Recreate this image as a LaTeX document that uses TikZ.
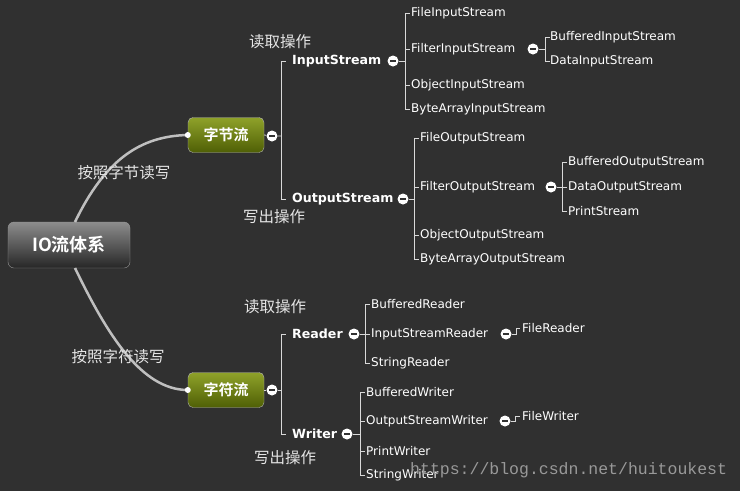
\documentclass[tikz,border=0pt]{standalone}
\usepackage{fontspec}
\setmainfont{DejaVu Sans}
\newfontfamily\cjk{Noto Sans CJK SC}
\newfontfamily\cjkb{Noto Sans CJK SC Bold}
\newfontfamily\wm{Liberation Mono}
\definecolor{gtop}{HTML}{8FA22A}
\definecolor{gbot}{HTML}{4F5F05}
\begin{document}
\begin{tikzpicture}[x=1pt,y=-1pt,
  leaf/.style={anchor=west,inner sep=0pt,text=white,font=\fontsize{12}{13}\selectfont},
  mid/.style={anchor=west,inner sep=0pt,text=white,font=\bfseries\fontsize{12.6}{13}\selectfont},
  lab/.style={inner sep=0pt,text=white!90!black,font=\cjk\fontsize{15.5}{17}\selectfont},
  ln/.style={draw=white!85!black,line width=0.8pt},
  mn/.style={circle,fill=white,inner sep=0pt,minimum size=11pt,path picture={\draw[black!80,line width=1.5pt] ([xshift=-3pt]path picture bounding box.center) -- ([xshift=3pt]path picture bounding box.center);}},
  grn/.style={rounded corners=5pt,draw=white!70!black,top color=gtop,bottom color=gbot,minimum width=76pt,minimum height=35pt,text=white,font=\cjkb\fontsize{15}{16}\selectfont},
]
\fill[black!81] (0,0) rectangle (740,491);
\useasboundingbox (0,0) rectangle (740,491);
% root
\node[rounded corners=6pt,draw=white!60!black,top color=black!45,bottom color=black!85,minimum width=122pt,minimum height=46pt,text=white,font=\cjkb\fontsize{18}{19}\selectfont] (root) at (69,245) {IO流体系};
\node[grn] (byte) at (226,135) {字节流};
\node[grn] (char) at (226,390) {字符流};
\draw[white!75!black,line width=2.5pt] (75,222) .. controls (105,160) and (140,136) .. (byte.west);
\draw[white!75!black,line width=2.5pt] (75,268) .. controls (105,330) and (140,390) .. (char.west);
\fill[white] (byte.west) circle (3pt) (char.west) circle (3pt);
\node[lab] (l1) at (124,173) {按照字节读写};
\node[lab] (l2) at (118,357) {按照字符读写};
\node[lab] (l3) at (280,42) {读取操作};
\node[lab] (l4) at (274,217) {写出操作};
\node[lab] (l5) at (275,307) {读取操作};
\node[lab] (l6) at (285,458) {写出操作};
% bracket macro
\newcommand\brk[4]{% x, ytop, ybot, list of y
  \draw[ln] (#1,#2) -- (#1,#3);
  \foreach \yy in {#4} \draw[ln] (#1,\yy) -- (#1+5,\yy);}
% byte
\node[mn] (m1) at (272,136) {};
\draw[ln] (byte.east) -- (m1) -- (281,136);
\brk{281}{61}{199}{61,199}
\node[mid] (is) at (292,61) {InputStream};
\node[mid] (os) at (292,199) {OutputStream};
\node[mn] (m2) at (393,61) {};
\draw[ln] (m2) -- (405,61);
\brk{405}{13}{109}{13,49,85,109}
\node[leaf] (fis) at (411,13) {FileInputStream};
\node[leaf] (filis) at (411,49) {FilterInputStream};
\node[leaf] (ois) at (411,85) {ObjectInputStream};
\node[leaf] (bais) at (411,109) {ByteArrayInputStream};
\node[mn] (m3) at (533,49) {};
\draw[ln] (m3) -- (545,49);
\brk{545}{37}{61}{37,61}
\node[leaf] (bis) at (550,37) {BufferedInputStream};
\node[leaf] (dis) at (550,61) {DataInputStream};
\node[mn] (m4) at (403,199) {};
\draw[ln] (m4) -- (414,199);
\brk{414}{138}{259}{138,187,235,259}
\node[leaf] (fos) at (420,138) {FileOutputStream};
\node[leaf] (filos) at (420,187) {FilterOutputStream};
\node[leaf] (oos) at (420,235) {ObjectOutputStream};
\node[leaf] (baos) at (420,259) {ByteArrayOutputStream};
\node[mn] (m5) at (551,187) {};
\draw[ln] (m5) -- (562,187);
\brk{562}{162}{211}{162,187,211}
\node[leaf] (bos) at (568,162) {BufferedOutputStream};
\node[leaf] (dos) at (568,187) {DataOutputStream};
\node[leaf] (ps) at (568,211) {PrintStream};
% char
\node[mn] (m6) at (272,390) {};
\draw[ln] (char.east) -- (m6) -- (281,390);
\brk{281}{334}{434}{334,434}
\node[mid] (rd) at (292,334) {Reader};
\node[mid] (wr) at (292,434) {Writer};
\node[mn] (m7) at (354,334) {};
\draw[ln] (m7) -- (365,334);
\brk{365}{304}{363}{304,334,363}
\node[leaf] (br) at (371,304) {BufferedReader};
\node[leaf] (isr) at (371,334) {InputStreamReader};
\node[leaf] (sr) at (371,363) {StringReader};
\node[mn] (m8) at (506,334) {};
\draw[ln] (m8) -- (516,334) -- (516,328) -- (520,328);
\node[leaf] (fr) at (522,328) {FileReader};
\node[mn] (m9) at (347,434) {};
\draw[ln] (m9) -- (360,434);
\brk{360}{392}{475}{392,421,451,475}
\node[leaf] (bw) at (366,392) {BufferedWriter};
\node[leaf] (osw) at (366,421) {OutputStreamWriter};
\node[leaf] (pw) at (366,451) {PrintWriter};
\node[leaf] (sw) at (366,475) {StringWriter};
\node[mn] (m10) at (505,421) {};
\draw[ln] (m10) -- (515,421) -- (515,416) -- (520,416);
\node[leaf] (fw) at (522,416) {FileWriter};
\node[anchor=west,inner sep=0pt,text=white!60!black,font=\wm\fontsize{16.5}{17}\selectfont] (wmk) at (410,470) {https://blog.csdn.net/huitoukest};
\end{tikzpicture}
\end{document}
